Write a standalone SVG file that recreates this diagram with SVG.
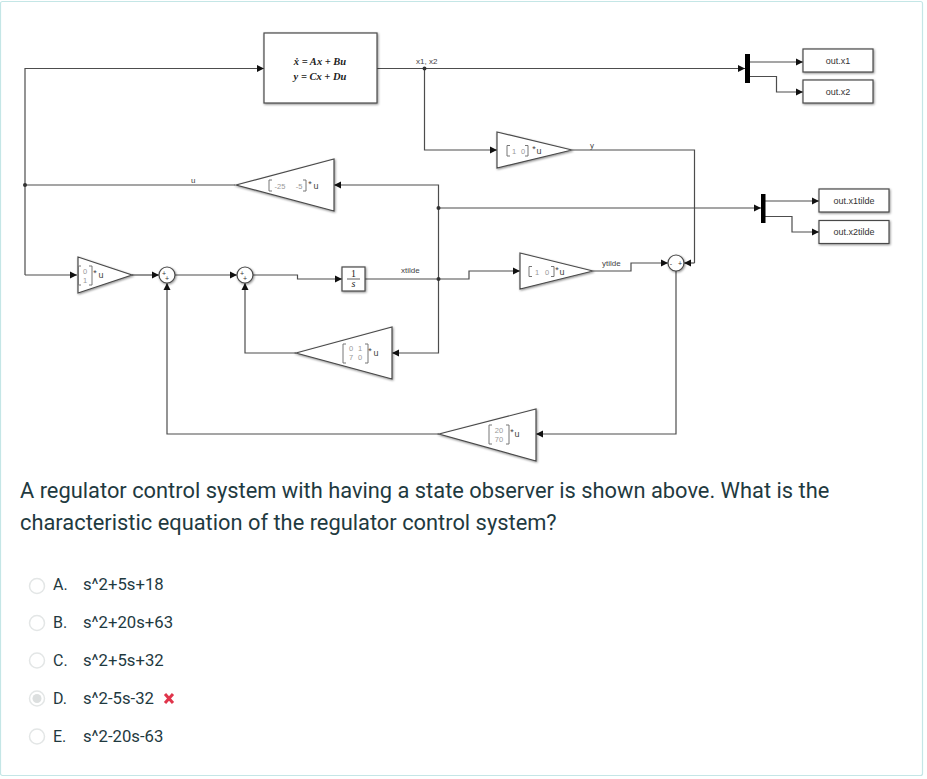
<svg xmlns="http://www.w3.org/2000/svg" width="927" height="779" viewBox="0 0 927 779">
<style>
.block{fill:#fff;stroke:#4a4a4a;stroke-width:1.2;filter:url(#sh)}
.wire{fill:none;stroke:#4d4d4d;stroke-width:1.2}
.arrow{fill:none;stroke:#4d4d4d;stroke-width:1.2;marker-end:url(#ah)}
.lab{font-family:"Liberation Sans",Arial,sans-serif;font-size:8px;fill:#444}
.box{font-family:"Liberation Sans",Arial,sans-serif;font-size:9px;fill:#333;text-anchor:middle}
.mat{font-family:"Liberation Sans",Arial,sans-serif;font-size:7.5px;fill:#999;text-anchor:middle}
.u{font-family:"Liberation Sans",Arial,sans-serif;font-size:9px;fill:#444;text-anchor:middle}
.brk{fill:none;stroke:#777;stroke-width:1}
.math{font-family:"Liberation Serif","Times New Roman",serif;font-style:italic;font-weight:bold;font-size:10.500px;fill:#222;text-anchor:middle}
.frac{font-family:"Liberation Serif","Times New Roman",serif;font-size:10px;fill:#222;text-anchor:middle}
.sgn{font-family:"Liberation Sans",Arial,sans-serif;font-size:7px;fill:#333;text-anchor:middle}
.q{font-family:Roboto,"Liberation Sans",sans-serif;font-size:21.850px;fill:#1f3a3f}
.opt{font-family:Roboto,"Liberation Sans",sans-serif;font-size:16px;fill:#1f3a3f}
.ans{font-family:Roboto,"Liberation Sans",sans-serif;font-size:16.700px;fill:#1f3a3f}
.radio{fill:#fff;stroke:#e3e6e6;stroke-width:1.5}
.dot{fill:#333}
</style>
<defs>
<filter id="sh" x="-20%" y="-20%" width="140%" height="140%"><feDropShadow dx="0.8" dy="1" stdDeviation="0.8" flood-color="#000" flood-opacity="0.45"/></filter>
<marker id="ah" markerUnits="userSpaceOnUse" markerWidth="8" markerHeight="8" refX="7" refY="4" orient="auto"><path d="M0 0.5L7 4L0 7.5Z" fill="#111"/></marker>
</defs>
<rect x="0.5" y="1.5" width="922" height="774" rx="2" fill="#fff" stroke="#c4e6e6" stroke-width="1.2"/>
<g id="connectors">
<path class="arrow" d="M25 185V68.500H264"/>
<path class="wire" d="M235 185H25V275"/>
<path class="arrow" d="M25 275H77"/>
<path class="arrow" d="M377 68.500H745"/>
<path class="arrow" d="M424.500 68.500V150H497"/>
<path class="wire" d="M572 150H694.500V263"/>
<path class="arrow" d="M694.500 263H684"/>
<path class="arrow" d="M438.500 208H761"/>
<path class="arrow" d="M438.500 279V185H334"/>
<path class="arrow" d="M438.500 279V353H392"/>
<path class="arrow" d="M132 275H159"/>
<path class="arrow" d="M175 275H237"/>
<path class="arrow" d="M253 275H297.500V279H342"/>
<path class="wire" d="M365 279H438.500"/>
<path class="arrow" d="M438.500 279H469V271H520"/>
<path class="arrow" d="M593 271H631V263H668"/>
<path class="arrow" d="M676 271V434H536"/>
<path class="arrow" d="M439 434H167V283"/>
<path class="arrow" d="M296 353H245V283"/>
<path class="arrow" d="M750 62H803"/>
<path class="arrow" d="M750 76.500H776.500V92H803"/>
<path class="arrow" d="M765 201H819"/>
<path class="arrow" d="M765 216.500H792V232H819"/>
<circle class="dot" cx="424.500" cy="68.500" r="2"/>
<circle class="dot" cx="25" cy="185" r="2"/>
<circle class="dot" cx="438.500" cy="208" r="2"/>
<circle class="dot" cx="438.500" cy="279" r="2"/>
<text class="lab" x="416" y="63.500">x1, x2</text>
<text class="lab" x="191" y="183">u</text>
<text class="lab" x="590" y="148">y</text>
<text class="lab" x="401" y="273">xtilde</text>
<text class="lab" x="602" y="266">ytilde</text>
</g>
<g id="state-space">
<rect class="block" x="264" y="33" width="113" height="70"/>
<text class="math" x="320" y="65">ẋ = Ax + Bu</text>
<text class="math" x="320" y="80">y = Cx + Du</text>
</g>
<g id="gain-c">
<path class="block" d="M497 132L572 150L497 168Z"/>
<path class="brk" d="M510 145.500H507V156H510M525 145.500H528V156H525"/>
<text class="mat" x="514" y="153.500">1</text><text class="mat" x="523" y="153.500">0</text>
<text class="u" x="534" y="152">*</text><text class="u" x="539" y="153.500">u</text>
</g>
<g id="gain-k">
<path class="block" d="M236 185L334 159V211Z"/>
<path class="brk" d="M272 180H269V191H272M303 180H306V191H303"/>
<text class="mat" x="280" y="188.500">-25</text><text class="mat" x="299" y="188.500">-5</text>
<text class="u" x="310" y="187">*</text><text class="u" x="316" y="188.500">u</text>
</g>
<g id="gain-b">
<path class="block" d="M78 257L132 275L78 293Z"/>
<path class="brk" d="M81 266H78.500V285H81M89 266H92V285H89"/>
<text class="mat" x="85" y="273.500">0</text><text class="mat" x="85" y="283">1</text>
<text class="u" x="95" y="276">*</text><text class="u" x="101" y="278">u</text>
</g>
<g id="sum1">
<circle class="block" cx="167" cy="275" r="8"/>
<text class="sgn" x="164" y="276">+</text><text class="sgn" x="167" y="281">+</text>
</g>
<g id="sum2">
<circle class="block" cx="245" cy="275" r="8"/>
<text class="sgn" x="242" y="276">+</text><text class="sgn" x="245" y="281">+</text>
</g>
<g id="integrator">
<rect class="block" x="342" y="267" width="23" height="24"/>
<path d="M347 279H360" stroke="#333" stroke-width="0.8"/>
<text class="frac" x="353.500" y="277">1</text>
<text class="frac" font-style="italic" x="353.500" y="287">s</text>
</g>
<g id="gain-a">
<path class="block" d="M296 353L392 327V379Z"/>
<path class="brk" d="M346 344H343V363H346M365 344H368V363H365"/>
<text class="mat" x="351" y="350.500">0</text><text class="mat" x="360" y="350.500">1</text>
<text class="mat" x="351" y="360">7</text><text class="mat" x="360" y="360">0</text>
<text class="u" x="370" y="354">*</text><text class="u" x="376" y="356">u</text>
</g>
<g id="gain-c2">
<path class="block" d="M520 253L593 271L520 289Z"/>
<path class="brk" d="M532 266.500H529V276.500H532M551 266.500H554V276.500H551"/>
<text class="mat" x="537" y="274.500">1</text><text class="mat" x="547" y="274.500">0</text>
<text class="u" x="557" y="273">*</text><text class="u" x="562" y="274.500">u</text>
</g>
<g id="sum3">
<circle class="block" cx="676" cy="263" r="8"/>
<text class="sgn" x="671" y="266">-</text><text class="sgn" x="680" y="266">+</text>
</g>
<g id="gain-l">
<path class="block" d="M439 434L536 409V461Z"/>
<path class="brk" d="M492 425H489V444H492M506 425H509V444H506"/>
<text class="mat" x="499" y="433">20</text><text class="mat" x="499" y="442">70</text>
<text class="u" x="512" y="435">*</text><text class="u" x="517" y="437">u</text>
</g>
<g id="mux1"><rect x="745" y="54" width="5" height="29" fill="#000"/></g>
<g id="mux2"><rect x="761" y="194" width="4.500" height="29" fill="#000"/></g>
<g id="out-x1"><rect class="block" x="803" y="49" width="70" height="23"/><text class="box" x="838" y="63.500">out.x1</text></g>
<g id="out-x2"><rect class="block" x="803" y="80" width="70" height="23"/><text class="box" x="838" y="95">out.x2</text></g>
<g id="out-x1tilde"><rect class="block" x="819" y="189" width="70" height="23"/><text class="box" x="854" y="204">out.x1tilde</text></g>
<g id="out-x2tilde"><rect class="block" x="819" y="220.500" width="70" height="23"/><text class="box" x="854" y="235">out.x2tilde</text></g>
<text class="q" x="20" y="498">A regulator control system with having a state observer is shown above. What is the</text>
<text class="q" x="20" y="530">characteristic equation of the regulator control system?</text>
<g id="opt-a"><circle class="radio" cx="37" cy="586" r="7.500"/><text class="opt" x="53" y="590">A.</text><text class="ans" x="83" y="590">s^2+5s+18</text></g>
<g id="opt-b"><circle class="radio" cx="37" cy="623" r="7.500"/><text class="opt" x="53" y="628">B.</text><text class="ans" x="83" y="628">s^2+20s+63</text></g>
<g id="opt-c"><circle class="radio" cx="37" cy="660.500" r="7.500"/><text class="opt" x="53" y="666">C.</text><text class="ans" x="83" y="666">s^2+5s+32</text></g>
<g id="opt-d"><circle class="radio" cx="37" cy="698.500" r="7.500"/><circle cx="37" cy="698.500" r="4.500" fill="#dcdfdf"/><text class="opt" x="53" y="704">D.</text><text class="ans" x="83" y="704">s^2-5s-32</text>
<path d="M165 694L173 703M173 694L165 703" stroke="#e0354b" stroke-width="3"/></g>
<g id="opt-e"><circle class="radio" cx="37" cy="736.500" r="7.500"/><text class="opt" x="53" y="742">E.</text><text class="ans" x="83" y="742">s^2-20s-63</text></g>
</svg>
